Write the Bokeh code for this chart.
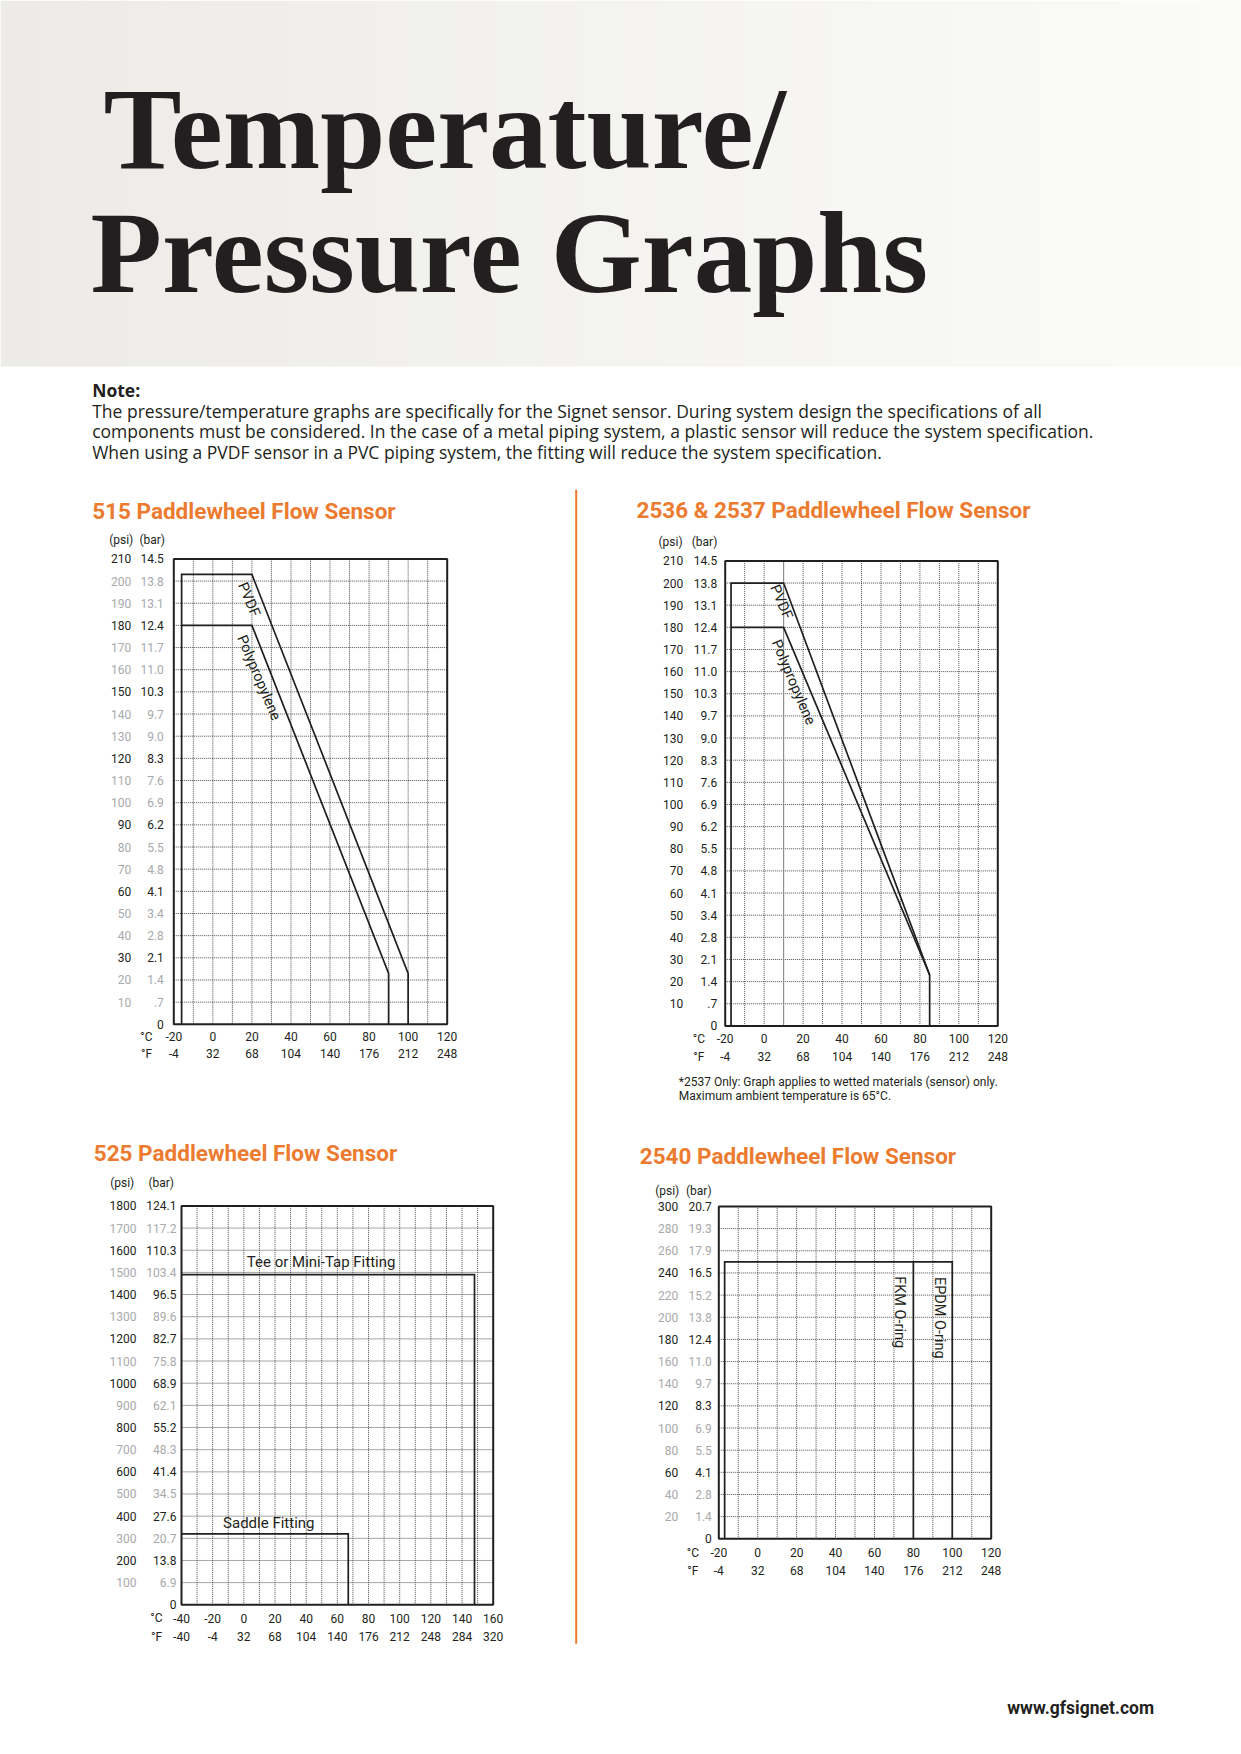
import numpy as np
from bokeh.plotting import figure
from bokeh.models import Range1d
from bokeh.core.properties import value
from bokeh.embed import file_html
from bokeh.resources import INLINE

# ---------------------------------------------------------------- data
# 515 Paddlewheel Flow Sensor
t515_psi = [210, 200, 190, 180, 170, 160, 150, 140, 130, 120, 110, 100, 90, 80, 70, 60, 50, 40, 30, 20, 10]
t515_bar = ["14.5", "13.8", "13.1", "12.4", "11.7", "11.0", "10.3", "9.7", "9.0", "8.3", "7.6",
            "6.9", "6.2", "5.5", "4.8", "4.1", "3.4", "2.8", "2.1", "1.4", ".7"]
t515_dark = [210, 180, 150, 120, 90, 60, 30]
t515_c = [-20, 0, 20, 40, 60, 80, 100, 120]
t515_f = ["-4", "32", "68", "104", "140", "176", "212", "248"]
pvdf515_c = [-16, -16, 20, 100, 100]
pvdf515_psi = [0, 203, 203, 23, 0]
pp515_c = [-16, 20, 90, 90]
pp515_psi = [180, 180, 23, 0]

# 2536 & 2537 Paddlewheel Flow Sensor
t2536_psi = [210, 200, 190, 180, 170, 160, 150, 140, 130, 120, 110, 100, 90, 80, 70, 60, 50, 40, 30, 20, 10]
t2536_bar = ["14.5", "13.8", "13.1", "12.4", "11.7", "11.0", "10.3", "9.7", "9.0", "8.3", "7.6",
             "6.9", "6.2", "5.5", "4.8", "4.1", "3.4", "2.8", "2.1", "1.4", ".7"]
t2536_dark = t2536_psi
t2536_c = [-20, 0, 20, 40, 60, 80, 100, 120]
t2536_f = ["-4", "32", "68", "104", "140", "176", "212", "248"]
pvdf2536_c = [-17, -17, 10, 85, 85]
pvdf2536_psi = [0, 200, 200, 23, 0]
pp2536_c = [-17, 10, 85]
pp2536_psi = [180, 180, 23]

# 525 Paddlewheel Flow Sensor
t525_psi = [1800, 1700, 1600, 1500, 1400, 1300, 1200, 1100, 1000, 900, 800, 700, 600, 500, 400, 300, 200, 100]
t525_bar = ["124.1", "117.2", "110.3", "103.4", "96.5", "89.6", "82.7", "75.8", "68.9", "62.1",
            "55.2", "48.3", "41.4", "34.5", "27.6", "20.7", "13.8", "6.9"]
t525_dark = [1800, 1600, 1400, 1200, 1000, 800, 600, 400, 200]
t525_c = [-40, -20, 0, 20, 40, 60, 80, 100, 120, 140, 160]
t525_f = ["-40", "-4", "32", "68", "104", "140", "176", "212", "248", "284", "320"]
tee525_c = [-40, 148, 148]
tee525_psi = [1490, 1490, 0]
sad525_c = [-40, 67, 67]
sad525_psi = [320, 320, 0]

# 2540 Paddlewheel Flow Sensor
t2540_psi = [300, 280, 260, 240, 220, 200, 180, 160, 140, 120, 100, 80, 60, 40, 20]
t2540_bar = ["20.7", "19.3", "17.9", "16.5", "15.2", "13.8", "12.4", "11.0", "9.7", "8.3",
             "6.9", "5.5", "4.1", "2.8", "1.4"]
t2540_dark = [300, 240, 180, 120, 60]
t2540_c = [-20, 0, 20, 40, 60, 80, 100, 120]
t2540_f = ["-4", "32", "68", "104", "140", "176", "212", "248"]
fkm2540_c = [-17, -17, 80, 80]
fkm2540_psi = [0, 250, 250, 0]
epdm2540_c = [80, 100, 100]
epdm2540_psi = [250, 250, 0]

# ---------------------------------------------------------------- page
W, H = 1241, 1750
DARK = "#231f20"
GRAY = "#a7a9ac"
GRIDC = "#4d4d4f"
ORANGE = "#ec7b2f"
SANS = value("Roboto")
BODY = value("Open Sans")

p = figure(width=W, height=H, x_range=Range1d(0, W), y_range=Range1d(H, 0),
           x_axis_type=None, y_axis_type=None, toolbar_location=None,
           output_backend="svg", min_border=0, title=None)
p.outline_line_color = None
p.background_fill_color = "white"
p.border_fill_color = "white"


def txt(x, y, t, size, color=DARK, bold=False, align="left", baseline="middle",
        angle=0, font=SANS, xn="default", yn="default"):
    p.text(x=x, y=y, text=t, x_range_name=xn, y_range_name=yn,
           text_font=font, text_font_size=size, text_color=color,
           text_font_style="bold" if bold else "normal",
           text_align=align, text_baseline=baseline, angle=angle, angle_units="deg")


# header band with a soft left-to-right shading
nstr = 30
edges = np.linspace(0, W, nstr + 1)
c0 = np.array([236, 235, 231])
c1 = np.array([251, 251, 249])
band_cols = ["#%02x%02x%02x" % tuple(int(round(v)) for v in c0 + (c1 - c0) * i / (nstr - 1)) for i in range(nstr)]
p.quad(left=list(edges[:-1]), right=list(edges[1:] + 0.6), top=[0] * nstr, bottom=[366] * nstr,
       fill_color=band_cols, line_color=None)

TITLE_FONT = value("Liberation Serif")
txt([103], [127.5], ["Temperature/"], "117px", bold=True, font=TITLE_FONT)
txt([90], [251.7], ["Pressure Graphs"], "117px", bold=True, font=TITLE_FONT)

txt([91.7], [389.5], ["Note:"], "17.5px", bold=True, font=BODY)
note_lines = [
    "The pressure/temperature graphs are specifically for the Signet sensor.  During system design the specifications of all",
    "components must be considered.  In the case of a metal piping system, a plastic sensor will reduce the system specification.",
    "When using a PVDF sensor in a PVC piping system, the fitting will reduce the system specification.",
]
txt([91.7] * 3, [410.2, 430.8, 451.4], note_lines, "17.5px", font=BODY)

# orange divider
p.segment(x0=[575.7], y0=[489.3], x1=[575.7], y1=[1643.3], line_color=ORANGE, line_width=2)

# footer
txt([1006.7], [1707.4], ["www.gfsignet.com"], "17.5px", bold=True)


def chart(key, title, tpos, xlim, ylim, box, xgrid, ygrid, psi, bar, dark, cvals, flabels, lay):
    L, R, T, B = box
    kx = (xlim[1] - xlim[0]) / (R - L)
    ky = (ylim[1] - ylim[0]) / (B - T)
    xn, yn = "x" + key, "y" + key
    p.extra_x_ranges[xn] = Range1d(start=xlim[0] - L * kx, end=xlim[0] + (W - L) * kx)
    p.extra_y_ranges[yn] = Range1d(start=ylim[0] - (H - B) * ky, end=ylim[0] + B * ky)

    txt([tpos[0]], [tpos[1]], [title], "22.5px", color=ORANGE, bold=True)

    # dotted grid
    p.segment(x0=xgrid, y0=[ylim[0]] * len(xgrid), x1=xgrid, y1=[ylim[1]] * len(xgrid),
              x_range_name=xn, y_range_name=yn, line_color=GRIDC, line_width=1, line_dash="1 1")
    p.segment(x0=[xlim[0]] * len(ygrid), y0=ygrid, x1=[xlim[1]] * len(ygrid), y1=ygrid,
              x_range_name=xn, y_range_name=yn, line_color=GRIDC, line_width=1, line_dash="1 1")

    # y tick labels (psi & bar)
    pcol = [DARK if v in dark else GRAY for v in psi]
    txt([lay["psi_r"]] * len(psi), psi, [str(v) for v in psi], "12px", color=pcol,
        align="right", yn=yn)
    txt([lay["bar_r"]] * (len(psi) + 1), psi + [0], bar + ["0"], "12px", color=pcol + [DARK],
        align="right", yn=yn)
    txt([lay["hdr_psi"], lay["hdr_bar"]], [lay["hdr_y"]] * 2, ["(psi)", "(bar)"], "12px",
        align="center")

    # x tick labels (°C & °F)
    txt(cvals, [lay["row_c"]] * len(cvals), [str(v) for v in cvals], "12px", align="center", xn=xn)
    txt(cvals, [lay["row_f"]] * len(cvals), flabels, "12px", align="center", xn=xn)
    txt([lay["unit_x"]] * 2, [lay["row_c"], lay["row_f"]], ["°C", "°F"], "12px", align="center")
    return xn, yn


def frame(xn, yn, xlim, ylim):
    p.quad(left=[xlim[0]], right=[xlim[1]], bottom=[ylim[0]], top=[ylim[1]],
           x_range_name=xn, y_range_name=yn, fill_color=None, line_color=DARK, line_width=2)


def series(xn, yn, xs, ys):
    p.line(x=xs, y=ys, x_range_name=xn, y_range_name=yn, line_color=DARK, line_width=1.7,
           line_join="miter")


# --- 515
xn, yn = chart("515", "515 Paddlewheel Flow Sensor", (91.7, 510), (-20, 120), (0, 210),
               (173.3, 446.7, 558.4, 1023.8), list(range(-10, 120, 10)), list(range(10, 210, 10)),
               t515_psi, t515_bar, t515_dark, t515_c, t515_f,
               dict(psi_r=130.7, bar_r=163.3, hdr_psi=120.7, hdr_bar=151.7, hdr_y=539,
                    row_c=1036, row_f=1053, unit_x=146))
series(xn, yn, pvdf515_c, pvdf515_psi)
series(xn, yn, pp515_c, pp515_psi)
frame(xn, yn, (-20, 120), (0, 210))
txt([18.4], [191.6], ["PVDF"], "14.5px", align="center", angle=-67, xn=xn, yn=yn)
txt([23.5], [156.4], ["Polypropylene"], "14.5px", align="center", angle=-67, xn=xn, yn=yn)

# --- 2536 & 2537
xn, yn = chart("2536", "2536 & 2537 Paddlewheel Flow Sensor", (636, 509.8), (-20, 120), (0, 210),
               (724.7, 997.3, 560.4, 1025.4), list(range(-10, 120, 10)), list(range(10, 210, 10)),
               t2536_psi, t2536_bar, t2536_dark, t2536_c, t2536_f,
               dict(psi_r=682.7, bar_r=716.7, hdr_psi=670, hdr_bar=704, hdr_y=541.4,
                    row_c=1038.4, row_f=1056.2, unit_x=698.3))
p.segment(x0=[10], y0=[0], x1=[10], y1=[210], x_range_name=xn, y_range_name=yn,
          line_color="#8c8c8c", line_width=1)
series(xn, yn, pvdf2536_c, pvdf2536_psi)
series(xn, yn, pp2536_c, pp2536_psi)
frame(xn, yn, (-20, 120), (0, 210))
txt([8.8], [191.4], ["PVDF"], "14.5px", align="center", angle=-67, xn=xn, yn=yn)
txt([15], [155.2], ["Polypropylene"], "14.5px", align="center", angle=-67, xn=xn, yn=yn)
txt([678.3] * 2, [1081, 1095],
    ["*2537 Only: Graph applies to wetted materials (sensor) only.", "Maximum ambient temperature is 65°C."],
    "12px")

# --- 525
xn, yn = chart("525", "525 Paddlewheel Flow Sensor", (93.3, 1152.8), (-40, 160), (0, 1800),
               (181, 492.7, 1205.4, 1604.3), list(range(-30, 160, 10)), list(range(100, 1800, 100)),
               t525_psi, t525_bar, t525_dark, t525_c, t525_f,
               dict(psi_r=136, bar_r=176, hdr_psi=121.7, hdr_bar=160.7, hdr_y=1182.4,
                    row_c=1617.8, row_f=1636, unit_x=156))
series(xn, yn, tee525_c, tee525_psi)
series(xn, yn, sad525_c, sad525_psi)
frame(xn, yn, (-40, 160), (0, 1800))
txt([49.6], [1545], ["Tee or Mini-Tap Fitting"], "15px", align="center", xn=xn, yn=yn)
txt([16], [370.6], ["Saddle Fitting"], "15px", align="center", xn=xn, yn=yn)

# --- 2540
xn, yn = chart("2540", "2540 Paddlewheel Flow Sensor", (639.3, 1155), (-20, 120), (0, 300),
               (718.3, 990.7, 1206, 1538.3), list(range(-10, 120, 10)), list(range(20, 300, 20)),
               t2540_psi, t2540_bar, t2540_dark, t2540_c, t2540_f,
               dict(psi_r=677.7, bar_r=711.3, hdr_psi=666.7, hdr_bar=698.3, hdr_y=1190,
                    row_c=1552.3, row_f=1570, unit_x=692.3))
series(xn, yn, fkm2540_c, fkm2540_psi)
series(xn, yn, epdm2540_c, epdm2540_psi)
frame(xn, yn, (-20, 120), (0, 300))
txt([73], [204.6], ["FKM O-ring"], "14.5px", align="center", angle=-90, xn=xn, yn=yn)
txt([93.6], [199.5], ["EPDM O-ring"], "14.5px", align="center", angle=-90, xn=xn, yn=yn)

open("out.html", "w").write(file_html(p, INLINE, title="Temperature/Pressure Graphs"))
